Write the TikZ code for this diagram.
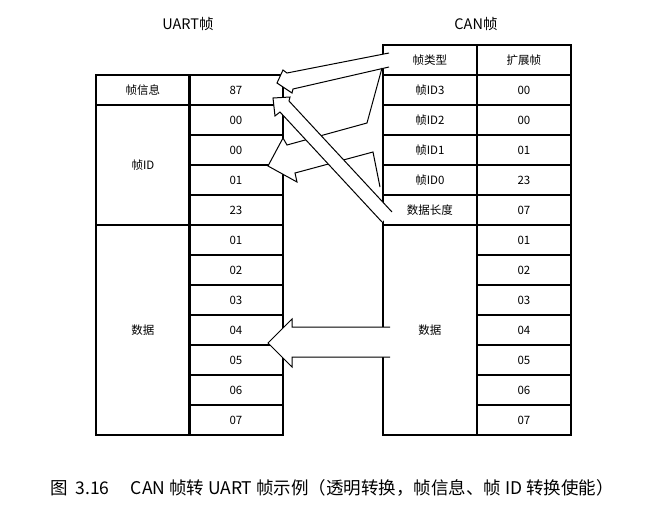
\documentclass[tikz,border=0pt]{standalone}
\usepackage{fontspec}
\setmainfont{Liberation Sans}
\newfontfamily\cjk{Noto Sans CJK SC}
\begin{document}
\begin{tikzpicture}[x=1pt,y=-1pt,
  cell/.style={draw,line width=1.8pt,minimum width=94pt,minimum height=30pt,anchor=north west,inner sep=0pt,font=\cjk\fontsize{11.5}{13}\selectfont},
  barrow/.style={draw,line width=1pt,fill=white,line join=miter}]
\useasboundingbox (0,0) rectangle (662,512);
% UART
\node[cell] (u0a) at (95,74) {帧信息};
\node[cell] (u0b) at (188,74) {87};
\node[cell,minimum height=120pt] (uid) at (95,104) {帧ID};
\node[cell,minimum height=210pt] (udata) at (95,224) {数据};
\foreach \v [count=\i from 0] in {00,00,01,23,01,02,03,04,05,06,07}
  \node[cell] (ur\i) at (188,104+30*\i) {\v};
% CAN
\node[cell] (c0a) at (382,44) {帧类型};
\node[cell] (c0b) at (476,44) {扩展帧};
\foreach \l/\v [count=\i from 1] in {帧ID3/00,帧ID2/00,帧ID1/01,帧ID0/23,数据长度/07}{
  \node[cell] (cl\i) at (382,44+30*\i) {\l};
  \node[cell] (cr\i) at (476,44+30*\i) {\v};}
\node[cell,minimum height=210pt] (cdata) at (382,224) {数据};
\foreach \v [count=\i from 0] in {01,02,03,04,05,06,07}
  \node[cell] (cd\i) at (476,224+30*\i) {\v};
% titles
\node[font=\cjk\fontsize{14.5}{16}\selectfont] (t1) at (188,24) {UART帧};
\node[font=\cjk\fontsize{14.5}{16}\selectfont] (t2) at (476,24) {CAN帧};
% arrows
\draw[barrow] (389,53)--(287,73)--(283,70)--(277,83)--(292,93)--(293,89)--(389,67);
\draw[barrow] (382,68)--(367,123)--(287,145)--(283,138)--(268,166)--(297,182)--(295,173)--(373,152)--(380,187);
\draw[barrow] (392,212)--(289,101)--(290,97)--(273,98)--(275,116)--(280,112)--(382,222);
\draw[barrow] (390,327)--(292,327)--(292,319)--(268,343)--(292,367)--(292,357)--(390,357);
\node[font=\cjk\fontsize{17.5}{20}\selectfont] (cap) at (332,488) {图\ \ 3.16\quad\ CAN 帧转 UART 帧示例（透明转换，帧信息、帧 ID 转换使能）};
\end{tikzpicture}
\end{document}
